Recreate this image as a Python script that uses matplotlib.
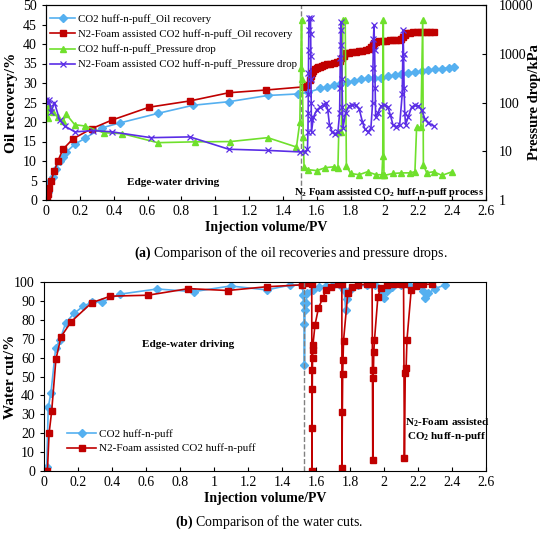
import numpy as np
import matplotlib
matplotlib.use('Agg')
import matplotlib.pyplot as plt

plt.rcParams['font.family'] = ['Liberation Serif', 'DejaVu Serif']
plt.rcParams['mathtext.fontset'] = 'custom'
plt.rcParams['mathtext.rm'] = 'Liberation Serif'
plt.rcParams['mathtext.bf'] = 'Liberation Serif:bold'

# ---- (a) oil recovery, % ----
co2_rec_x = [0, 0.01, 0.02, 0.04, 0.06, 0.08, 0.10, 0.12, 0.17, 0.23, 0.33, 0.44, 0.66, 0.87,
             1.08, 1.31, 1.49, 1.55, 1.62, 1.66, 1.70, 1.74, 1.78, 1.82, 1.86, 1.90, 1.94,
             1.98, 2.02, 2.06, 2.10, 2.14, 2.18, 2.22, 2.26, 2.30, 2.34, 2.38, 2.41]
co2_rec_y = [0, 2, 4.5, 6, 8, 10, 11, 12.3, 14.3, 15.8, 18.5, 19.8, 22.2, 24.3,
             25.2, 26.8, 27.2, 27.6, 28.6, 29.0, 29.4, 29.8, 30.2, 30.5, 30.9, 31.2, 31.3,
             31.4, 31.7, 32.0, 32.3, 32.6, 32.8, 33.0, 33.3, 33.5, 33.7, 33.9, 34.0]

n2_rec_x = [0, 0.005, 0.01, 0.02, 0.03, 0.05, 0.07, 0.10, 0.16, 0.27, 0.39, 0.61, 0.85,
            1.08, 1.30, 1.52, 1.545, 1.56, 1.565, 1.57, 1.58, 1.59, 1.60, 1.61, 1.62, 1.63,
            1.64, 1.66, 1.68, 1.70, 1.72, 1.74, 1.75, 1.76, 1.77, 1.79, 1.81, 1.83, 1.85,
            1.87, 1.89, 1.91, 1.92, 1.93, 1.94, 1.95, 1.97, 1.99, 2.01, 2.03, 2.05, 2.07,
            2.09, 2.10, 2.11, 2.12, 2.13, 2.15, 2.17, 2.19, 2.21, 2.23, 2.25, 2.27, 2.29]
n2_rec_y = [0, 0.5, 1.5, 3, 5, 7.5, 10, 13, 15.7, 18.3, 20.5, 23.8, 25.4,
            27.5, 28.2, 29.0, 29.5, 30.8, 31.8, 32.5, 33.0, 33.5, 33.8, 34.0, 34.2, 34.4,
            34.6, 34.8, 35.0, 35.2, 35.4, 35.6, 36.3, 37.0, 37.6, 37.8, 37.9, 38.0, 38.2,
            38.3, 38.4, 38.8, 39.2, 39.8, 40.3, 40.6, 40.7, 40.8, 40.8, 40.9, 40.9, 41.0,
            41.0, 41.4, 41.9, 42.3, 42.7, 42.9, 43.0, 43.1, 43.2, 43.2, 43.2, 43.2, 43.2]

# ---- (a) pressure drop, kPa ----
co2_dp_x = [0, 0.01, 0.02, 0.04, 0.07, 0.10, 0.12, 0.17, 0.23, 0.34, 0.45, 0.66, 0.88,
            1.09, 1.31, 1.48, 1.50, 1.505, 1.51, 1.515, 1.52, 1.525, 1.55, 1.60, 1.65,
            1.70, 1.725, 1.73, 1.745, 1.755, 1.768, 1.775, 1.80, 1.85, 1.90, 1.95, 1.985,
            1.99, 1.993, 1.997, 2.00, 2.05, 2.10, 2.15, 2.18, 2.19, 2.215, 2.226, 2.23,
            2.25, 2.29, 2.34, 2.40]
co2_dp_y = [76, 48, 83, 63, 50, 41, 57, 35, 33, 24, 23, 15, 15.6,
            15.8, 19, 12.2, 40, 500, 5000, 300, 20, 4.8, 4.2, 4.0, 4.6,
            4.8, 4.6, 25, 25, 5000, 5000, 5.0, 3.5, 3.3, 3.8, 3.3, 3.3,
            8, 5000, 3.3, 3.2, 3.5, 3.6, 3.6, 3.8, 31, 31, 5000, 5.2,
            3.6, 3.8, 3.2, 3.8]

n2_dp_x = [0, 0.01, 0.02, 0.03, 0.05, 0.08, 0.11, 0.17, 0.28, 0.39, 0.62, 0.85, 1.08,
           1.31, 1.50, 1.53, 1.545,
           1.548, 1.549, 1.550, 1.551, 1.552, 1.553, 1.554,
           1.563, 1.564, 1.565, 1.566, 1.567, 1.568, 1.569,
           1.58, 1.60, 1.62, 1.64, 1.655, 1.665, 1.675, 1.69, 1.71, 1.725,
           1.735, 1.737, 1.739, 1.741, 1.743, 1.746, 1.749, 1.752, 1.755,
           1.77, 1.79, 1.81, 1.83, 1.85, 1.87, 1.885, 1.905, 1.92,
           1.93, 1.932, 1.935, 1.938, 1.942, 1.945, 1.948,
           1.96, 1.98, 2.00, 2.02, 2.035, 2.05, 2.07, 2.09,
           2.105, 2.108, 2.11, 2.113, 2.116, 2.12, 2.125,
           2.14, 2.16, 2.18, 2.20, 2.22, 2.24, 2.26, 2.29]
n2_dp_y = [110, 100, 110, 63, 100, 44, 33, 25, 26.5, 25, 19, 19.7, 11,
           10.4, 9.7, 9.8, 11,
           25, 60, 150, 400, 1200, 3000, 5500,
           5500, 2500, 900, 300, 100, 45, 25,
           50, 70, 80, 90, 100, 70, 35, 25, 23, 25,
           60, 200, 800, 3000, 4500, 1500, 300, 80, 30,
           60, 85, 90, 88, 75, 40, 28, 25, 30,
           100, 500, 2000, 3800, 1200, 200, 50,
           60, 85, 90, 82, 55, 35, 32, 35,
           150, 800, 3000, 1000, 200, 60, 35,
           50, 80, 88, 85, 70, 45, 38, 33]

# ---- (b) water cut, % ----
co2_wc_x = [0, 0.016, 0.025, 0.041, 0.069, 0.094, 0.128, 0.177, 0.232, 0.28, 0.344, 0.449,
            0.665, 0.88, 1.098, 1.31, 1.45, 1.52, 1.525, 1.527, 1.53, 1.532, 1.535, 1.54,
            1.55, 1.58, 1.62, 1.66, 1.70, 1.74, 1.765, 1.775, 1.78, 1.80, 1.85, 1.90, 1.95,
            1.99, 2.00, 2.02, 2.05, 2.10, 2.15, 2.20, 2.23, 2.24, 2.26, 2.30, 2.36]
co2_wc_y = [0, 2.3, 33.7, 41.5, 65.3, 69.3, 78.5, 83.4, 87.3, 89.2, 89.6, 93.6,
            96.3, 94.9, 97.9, 95.8, 98.4, 98.5, 93, 89, 78, 56, 85, 89,
            94, 96, 97.5, 98, 98.2, 98.4, 96, 85, 91, 96, 98.3, 98.5, 98.5,
            95, 91.4, 95, 97.5, 98.5, 98.5, 98.2, 95, 91.4, 94, 96.5, 98.5]

n2_wc_x = [0, 0.02, 0.03, 0.045, 0.07, 0.10, 0.16, 0.28, 0.39, 0.61, 0.85, 1.08, 1.31,
           1.52, 1.55, 1.575, 1.576, 1.577, 1.578, 1.579, 1.580, 1.581, 1.582,
           1.594, 1.614, 1.64, 1.66, 1.69, 1.73, 1.745,
           1.752, 1.753, 1.755, 1.757, 1.759, 1.762, 1.787, 1.81, 1.85, 1.90, 1.93,
           1.934, 1.936, 1.938, 1.940, 1.944, 1.964, 1.98, 2.02, 2.06, 2.10, 2.115,
           2.12, 2.125, 2.13, 2.135, 2.16, 2.19, 2.23, 2.28]
n2_wc_y = [0, 0, 20, 31.5, 59, 71, 79, 89, 92.5, 93, 96.5, 95.5, 97.5,
           98.5, 99.5, 99, 22.6, 0, 43.4, 53.4, 60, 64, 66.7,
           77.2, 86, 91.7, 95.8, 97.5, 98.8, 98.8,
           98.8, 1.7, 31.4, 51.2, 58.7, 69, 94, 97.5, 98.5, 98.8, 98.8,
           5.8, 49, 53.4, 62.8, 69.3, 92.2, 96.7, 98.5, 98.8, 98.8, 98.8,
           6.7, 51.7, 54.3, 69.3, 95.8, 98, 98.8, 98.8]

c_blue = '#55b0f0'
c_red = '#c00000'
c_green = '#6fe02c'
c_purple = '#5a2de6'

fig = plt.figure(figsize=(5.43, 5.36), dpi=100)
ax = fig.add_axes([46/543, 1 - 200/536, 440/543, 195/536])
ax2 = ax.twinx()
axb = fig.add_axes([44/543, 1 - 471/536, 442/543, 189/536])

# top panel
l1, = ax.plot(co2_rec_x, co2_rec_y, color=c_blue, marker='D', ms=4, lw=1.2)
l2, = ax.plot(n2_rec_x, n2_rec_y, color=c_red, marker='s', ms=4.5, lw=1.2)
l3, = ax2.plot(co2_dp_x, co2_dp_y, color=c_green, marker='^', ms=4.5, lw=1.2)
l4, = ax2.plot(n2_dp_x, n2_dp_y, color=c_purple, marker='x', ms=4.5, mew=0.9, lw=1.2)
ax.axvline(1.507, color='grey', ls='--', lw=1)

ax.set_xlim(0, 2.6)
ax.set_ylim(0, 50)
ax.set_yticks(np.arange(0, 51, 5))
ax2.set_yscale('log')
ax2.set_ylim(1, 10000)
ax2.set_yticks([1, 10, 100, 1000, 10000])
ax2.set_yticklabels(['1', '10', '100', '1000', '10000'])
ax2.minorticks_off()

ax.set_ylabel('Oil recovery/%', fontsize=11, fontweight='bold')
ax.yaxis.set_label_coords(-0.064, 0.5)
ax2.set_ylabel('Pressure drop/kPa', fontsize=10.5, fontweight='bold')
ax2.yaxis.set_label_coords(1.095, 0.5)
ax.set_xlabel('Injection volume/PV', fontsize=10, fontweight='bold', labelpad=2)

ax2.legend([l1, l2, l3, l4],
           ['CO2 huff-n-puff_Oil recovery', 'N2-Foam assisted CO2 huff-n-puff_Oil recovery',
            'CO2 huff-n-puff_Pressure drop', 'N2-Foam assisted CO2 huff-n-puff_Pressure drop'],
           loc='upper left', bbox_to_anchor=(-0.005, 0.985), frameon=False, fontsize=7.8,
           handlelength=2.3, labelspacing=0.5, borderaxespad=0.2, handletextpad=0.25)

ax.text(0.75, 4.6, 'Edge-water driving', fontsize=8, fontweight='bold', ha='center', va='center')
ax.text(2.59, 2.0, r'N$_\mathbf{2}$ Foam assisted CO$_\mathbf{2}$ huff-n-puff process',
        fontsize=7.6, fontweight='bold', ha='right', va='center')

# bottom panel
b1, = axb.plot(co2_wc_x, co2_wc_y, color=c_blue, marker='D', ms=4, lw=1.2)
b2, = axb.plot(n2_wc_x, n2_wc_y, color=c_red, marker='s', ms=5, lw=1.2)
axb.axvline(1.527, color='grey', ls='--', lw=1)
axb.set_xlim(0, 2.6)
axb.set_ylim(0, 100)
axb.set_yticks(np.arange(0, 101, 10))
axb.set_ylabel('Water cut/%', fontsize=11, fontweight='bold')
axb.yaxis.set_label_coords(-0.062, 0.5)
axb.set_xlabel('Injection volume/PV', fontsize=10, fontweight='bold', labelpad=2)
axb.legend([b1, b2], ['CO2 huff-n-puff', 'N2-Foam assisted CO2 huff-n-puff'],
           loc='lower left', bbox_to_anchor=(0.03, 0.04), frameon=False, fontsize=8,
           handlelength=2.6, labelspacing=0.45, handletextpad=0.3)
axb.text(0.85, 67, 'Edge-water driving', fontsize=8, fontweight='bold', ha='center', va='center')
axb.text(2.37, 22, 'N$_\\mathbf{2}$-Foam assisted\nCO$_\\mathbf{2}$ huff-n-puff', fontsize=8,
         fontweight='bold', ha='center', va='center', linespacing=1.1)

for a in (ax, axb):
    a.set_xticks(np.arange(0, 2.61, 0.2))
    a.set_xticklabels(['0', '0.2', '0.4', '0.6', '0.8', '1', '1.2', '1.4', '1.6', '1.8',
                       '2', '2.2', '2.4', '2.6'])
    a.tick_params(axis='x', direction='in', labelsize=10, length=3)
    a.tick_params(axis='y', direction='out', labelsize=10, length=3)
ax2.tick_params(axis='y', direction='in', labelsize=10, length=3, pad=9)

fig.text(0.535, 1 - 253/536, r'$\mathbf{(a)}$ Comparison of the oil recoveries and pressure drops.',
         ha='center', va='center', fontsize=10)
fig.text(0.495, 1 - 522/536, r'$\mathbf{(b)}$ Comparison of the water cuts.',
         ha='center', va='center', fontsize=10)

fig.savefig('out.png', dpi=100)
